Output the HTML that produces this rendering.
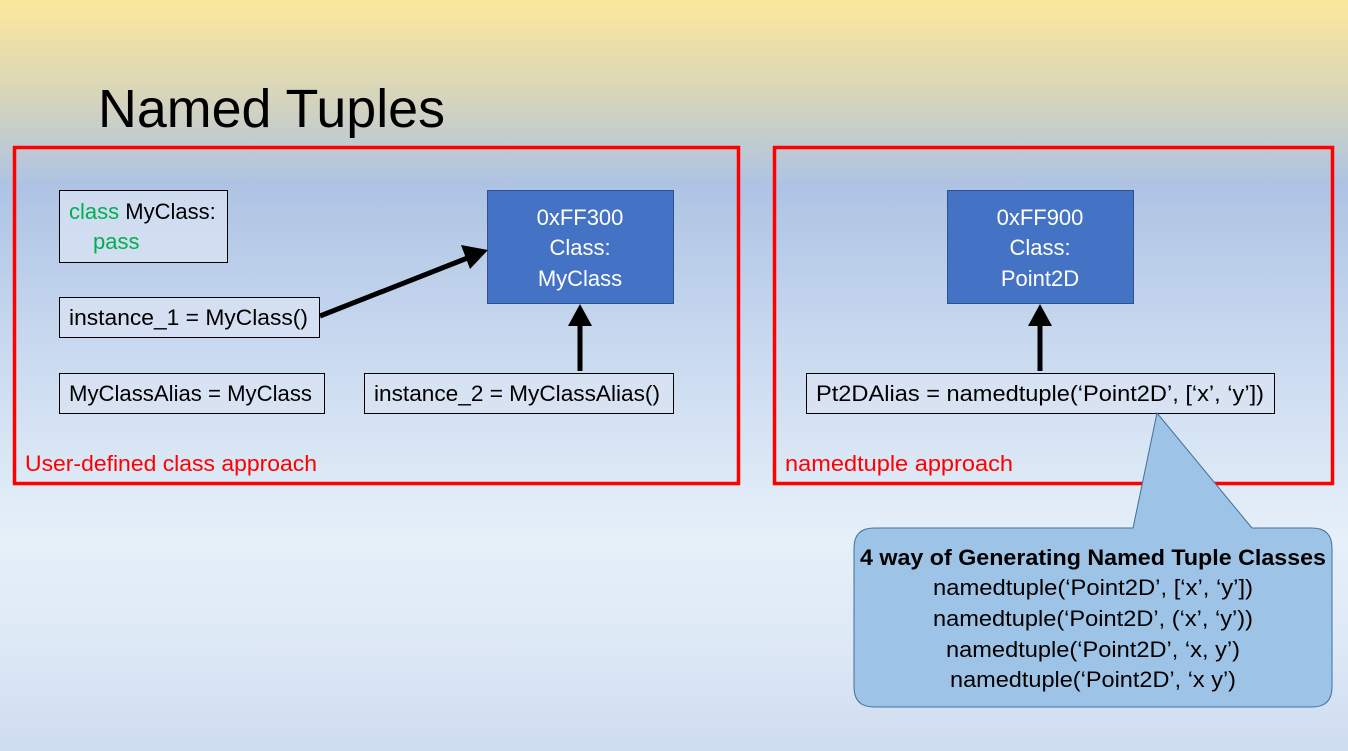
<!DOCTYPE html>
<html><head><meta charset="utf-8"><style>
html,body{margin:0;padding:0}
body{width:1348px;height:751px;overflow:hidden;background:linear-gradient(180deg,#fde99c 0px,#d9d6b8 90px,#aec3e4 185px,#c6d7ee 330px,#e6f0f9 540px,#dde8f6 650px,#cedcf0 751px);font-family:"Liberation Sans",sans-serif}
svg{position:absolute;left:0;top:0}
</style></head><body>
<svg width="1348" height="751" viewBox="0 0 1348 751" font-family="Liberation Sans, sans-serif">
<text x="98" y="127" font-size="54" fill="#000" textLength="347" lengthAdjust="spacingAndGlyphs">Named Tuples</text>
<rect x="14.5" y="147.5" width="724" height="336" fill="none" stroke="#ff0000" stroke-width="3.5"/>
<rect x="774.5" y="147.5" width="558" height="336" fill="none" stroke="#ff0000" stroke-width="3.5"/>
<g fill="#dae3f3" fill-opacity="0.75" stroke="#000" stroke-width="1">
<rect x="59.5" y="190.5" width="168" height="72"/>
<rect x="59.5" y="297.5" width="260" height="40"/>
<rect x="59.5" y="373.5" width="265" height="40"/>
<rect x="364.5" y="373.5" width="309" height="40"/>
<rect x="806.5" y="373.5" width="468" height="40"/>
</g>
<rect x="487.5" y="190.5" width="186" height="113" fill="#4472c4" stroke="#2f528f"/>
<rect x="947.5" y="190.5" width="186" height="113" fill="#4472c4" stroke="#2f528f"/>
<g font-size="22" fill="#000">
<text x="69" y="219"><tspan fill="#00b050">class</tspan> MyClass:</text>
<text x="93" y="249" fill="#00b050">pass</text>
<text x="69" y="325" textLength="239" lengthAdjust="spacingAndGlyphs">instance_1 = MyClass()</text>
<text x="69" y="401" textLength="243" lengthAdjust="spacingAndGlyphs">MyClassAlias = MyClass</text>
<text x="374" y="401" textLength="286" lengthAdjust="spacingAndGlyphs">instance_2 = MyClassAlias()</text>
<text x="816" y="401" textLength="448" lengthAdjust="spacingAndGlyphs">Pt2DAlias = namedtuple(‘Point2D’, [‘x’, ‘y’])</text>
</g>
<g font-size="22" fill="#fff" text-anchor="middle">
<text x="580" y="225">0xFF300</text><text x="580" y="255">Class:</text><text x="580" y="286">MyClass</text>
<text x="1040" y="225">0xFF900</text><text x="1040" y="255">Class:</text><text x="1040" y="286">Point2D</text>
</g>
<g font-size="22" fill="#ff0000">
<text x="25" y="471" textLength="292" lengthAdjust="spacingAndGlyphs">User-defined class approach</text>
<text x="785" y="471" textLength="228" lengthAdjust="spacingAndGlyphs">namedtuple approach</text>
</g>
<g stroke="#000" stroke-width="5">
<line x1="320" y1="316" x2="470" y2="257"/>
<line x1="580" y1="371" x2="580" y2="322"/>
<line x1="1040" y1="371" x2="1040" y2="322"/>
</g>
<polygon points="488,250 461,245 470,269" fill="#000"/>
<polygon points="580,304 568,326 592,326" fill="#000"/>
<polygon points="1040,304 1028,326 1052,326" fill="#000"/>
<path d="M874,528 H1133 L1157,413 L1252,528 H1312 Q1332,528 1332,548 V687 Q1332,707 1312,707 H874 Q854,707 854,687 V548 Q854,528 874,528 Z" fill="#9dc3e6" stroke="#41719c" stroke-width="1"/>
<g font-size="22" fill="#000" text-anchor="middle">
<text x="1093" y="565" font-weight="bold" textLength="466" lengthAdjust="spacingAndGlyphs">4 way of Generating Named Tuple Classes</text>
<text x="1093" y="595" textLength="320" lengthAdjust="spacingAndGlyphs">namedtuple(‘Point2D’, [‘x’, ‘y’])</text>
<text x="1093" y="626" textLength="320" lengthAdjust="spacingAndGlyphs">namedtuple(‘Point2D’, (‘x’, ‘y’))</text>
<text x="1093" y="657" textLength="294" lengthAdjust="spacingAndGlyphs">namedtuple(‘Point2D’, ‘x, y’)</text>
<text x="1093" y="687" textLength="286" lengthAdjust="spacingAndGlyphs">namedtuple(‘Point2D’, ‘x y’)</text>
</g>
</svg>
</body></html>
